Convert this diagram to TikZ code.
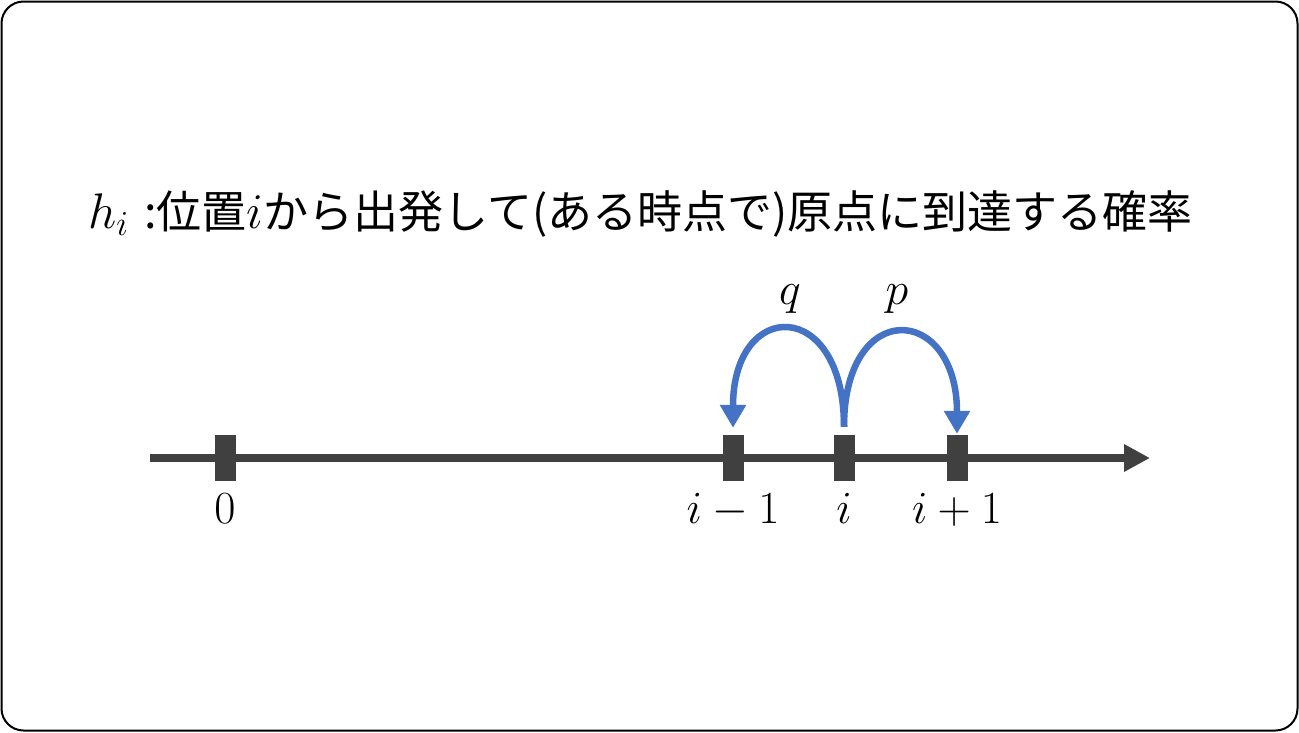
\RequirePackage{fix-cm}
\documentclass[tikz,border=0pt]{standalone}
\usepackage{fontspec}
\newfontfamily\cjk{Noto Sans CJK JP}
\usetikzlibrary{arrows.meta}
\definecolor{axisgray}{HTML}{404040}
\definecolor{jumpblue}{HTML}{4472C4}
\newcommand{\bigmath}[1]{{\fontsize{50}{60}\selectfont$#1$}}
\begin{document}
\begin{tikzpicture}[x=1pt,y=-1pt,
  tickbox/.style={rectangle,fill=axisgray,minimum width=21pt,minimum height=46pt,inner sep=0pt},
  ticklabel/.style={anchor=base,font=\fontsize{46}{54}\selectfont,inner sep=0pt},
  axisline/.style={draw=axisgray,line width=8pt,-{Triangle[width=26pt,length=26pt]}},
  jump/.style={draw=jumpblue,line width=6.5pt,-{Triangle[width=25pt,length=23pt]}},
  frame/.style={draw=black,line width=2pt,rounded corners=22pt}]
\useasboundingbox (0,0) rectangle (1299,732);
\draw[frame] (1.5,1.5) rectangle (1297.5,730.5);
\node[anchor=base west,inner sep=0pt,font=\fontsize{45}{52}\selectfont\cjk] (title) at (88,228) {\bigmath{h_i}\hspace{0.35em}:位置\bigmath{i}から出発して(ある時点で)原点に到達する確率};
\coordinate (axstart) at (150,458);
\coordinate (axend) at (1150,458);
\draw[axisline] (axstart) -- (axend);
\node[tickbox] (t0) at (225,458) {};
\node[tickbox] (tm) at (733,458) {};
\node[tickbox] (ti) at (844,458) {};
\node[tickbox] (tp) at (957,458) {};
\node[ticklabel] (l0) at (225,523) {$0$};
\node[ticklabel] (lm) at (733,523) {$i-1$};
\node[ticklabel] (li) at (844,523) {$i$};
\node[ticklabel] (lp) at (957,523) {$i+1$};
\draw[jump] ([yshift=8pt]ti.north) .. controls +(0,-130) and +(0,-130) .. ([yshift=7pt]tm.north);
\draw[jump] ([yshift=8pt]ti.north) .. controls +(0,-130) and +(0,-130) .. ([yshift=1pt]tp.north);
\node[ticklabel] (lq) at (790,304) {$q$};
\node[ticklabel] (lpp) at (897,304) {$p$};
\end{tikzpicture}
\end{document}
